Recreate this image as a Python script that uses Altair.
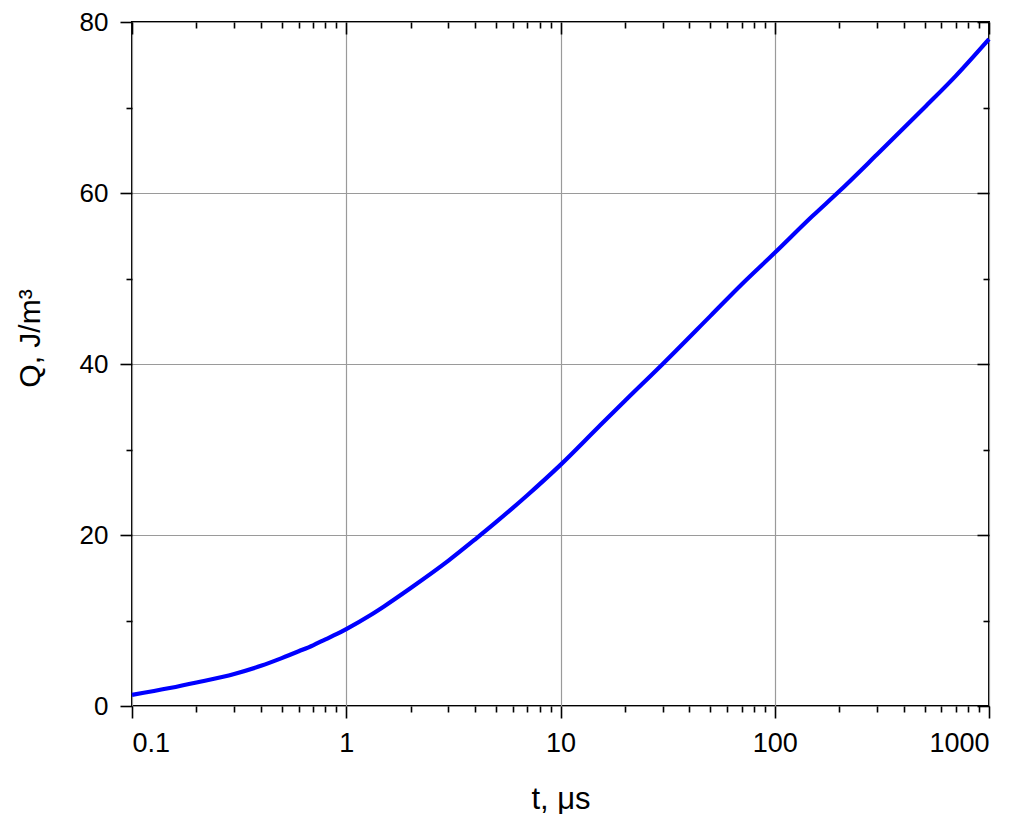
import altair as alt
import pandas as pd

# data
t_us = [0.1, 0.15, 0.2, 0.3, 0.4, 0.5, 0.6, 0.7, 0.8, 0.9, 1, 1.3, 1.5, 2, 3, 4, 5, 7,
        10, 15, 20, 30, 50, 70, 100, 150, 200, 300, 500, 700, 1000]
q_jm3 = [1.3, 2.1, 2.75, 3.75, 4.7, 5.6, 6.4, 7.1, 7.8, 8.4, 9.0, 10.65, 11.65, 13.8, 17.0,
         19.5, 21.5, 24.65, 28.2, 32.6, 35.7, 40.0, 45.6, 49.3, 53.0, 57.3, 60.2, 64.5,
         70.0, 73.7, 78.0]

x_major = [0.1, 1, 10, 100, 1000]
x_minor = [0.2, 0.3, 0.4, 0.5, 0.6, 0.7, 0.8, 0.9,
           2, 3, 4, 5, 6, 7, 8, 9,
           20, 30, 40, 50, 60, 70, 80, 90,
           200, 300, 400, 500, 600, 700, 800, 900]
y_major = [0, 20, 40, 60, 80]
y_minor = [10, 30, 50, 70]

df = pd.DataFrame({"t": t_us, "Q": q_jm3})

FONT = "Liberation Sans"
W, H = 857, 684
MAJ, MIN = 12, 6

xscale = alt.Scale(type="log", domain=[0.1, 1000], nice=False)
yscale = alt.Scale(domain=[0, 80], nice=False, zero=True)

common = dict(domain=False, tickColor="black", tickWidth=1.6, labelFont=FONT,
              titleFont=FONT, titleFontWeight="normal", labelColor="black",
              titleColor="black")


def layer(xaxis, yaxis, visible=False):
    if visible:
        m = alt.Chart(df).mark_line(color="#0000ff", strokeWidth=4.2, interpolate="monotone")
    else:
        m = alt.Chart(df).mark_line(strokeOpacity=0, interpolate="monotone")
    return m.encode(
        x=alt.X("t:Q", scale=xscale, axis=xaxis),
        y=alt.Y("Q:Q", scale=yscale, axis=yaxis),
    )


# bottom/left major with grid and labels
main = layer(
    alt.Axis(orient="bottom", values=x_major, grid=True, gridColor="#9a9a9a", gridWidth=1.2,
             tickSize=MAJ, labelFontSize=27, labelPadding=12, format="~g",
             title="t, μs", titleFontSize=31, titlePadding=28, **common),
    alt.Axis(orient="left", values=y_major, grid=True, gridColor="#9a9a9a", gridWidth=1.2,
             tickSize=MAJ, labelFontSize=26, labelPadding=12, format="d",
             title="Q, J/m³", titleFontSize=30, titlePadding=34, titleY=316, **common),
    visible=True,
)
minor_bl = layer(
    alt.Axis(orient="bottom", values=x_minor, grid=False, tickSize=MIN, labels=False,
             title="", **common),
    alt.Axis(orient="left", values=y_minor, grid=False, tickSize=MIN, labels=False,
             title="", **common),
)
major_tr = layer(
    alt.Axis(orient="top", values=x_major, grid=False, tickSize=MAJ, labels=False,
             offset=-MAJ, title="", **common),
    alt.Axis(orient="right", values=y_major, grid=False, tickSize=MAJ, labels=False,
             offset=-MAJ, title="", **common),
)
minor_tr = layer(
    alt.Axis(orient="top", values=x_minor, grid=False, tickSize=MIN, labels=False,
             offset=-MIN, title="", **common),
    alt.Axis(orient="right", values=y_minor, grid=False, tickSize=MIN, labels=False,
             offset=-MIN, title="", **common),
)

chart = (
    alt.layer(minor_bl, major_tr, minor_tr, main)
    .resolve_axis(x="independent", y="independent")
    .properties(
        width=W, height=H,
        autosize=alt.AutoSizeParams(type="none"),
        padding={"left": 124, "top": 14, "right": 25, "bottom": 108},
        background="white",
    )
    .configure_view(stroke="black", strokeWidth=2)
)

chart.save("out.html", embed_options={"renderer": "svg", "actions": False})
